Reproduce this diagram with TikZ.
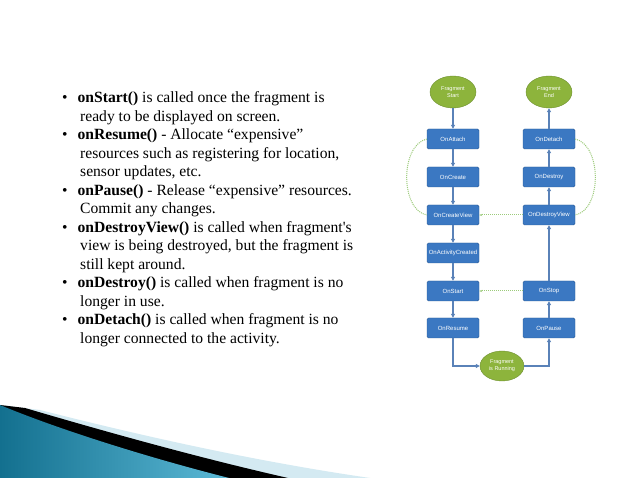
\documentclass[tikz,border=0pt]{standalone}
\usepackage{fontspec}
\setmainfont{Liberation Serif}
\setsansfont{Liberation Sans}
\usetikzlibrary{arrows.meta,shapes.geometric}
\definecolor{bx}{HTML}{3B78C2}
\definecolor{bxd}{HTML}{2A5A96}
\definecolor{gr}{HTML}{8DB43C}
\definecolor{grd}{HTML}{6E9030}
\definecolor{ar}{HTML}{5A82B8}
\definecolor{dg}{HTML}{9CCB7A}
\definecolor{tealA}{HTML}{13708F}
\definecolor{tealB}{HTML}{5CB9D6}
\definecolor{lb}{HTML}{D4EAF2}
\begin{document}
\begin{tikzpicture}[x=1pt,y=-1pt,
  fbox/.style={draw=bxd,fill=bx,rounded corners=1.5pt,minimum width=52pt,minimum height=20pt,text=white,font=\fontsize{6}{7}\selectfont\sffamily,inner sep=1pt},
  fell/.style={ellipse,draw=grd,fill=gr,minimum width=46pt,minimum height=32pt,text=white,font=\fontsize{5.5}{7}\selectfont\sffamily,align=center,inner sep=0pt},
  arr/.style={-{Triangle[length=4pt,width=4pt]},draw=ar,line width=1.2pt},
  dot/.style={draw=dg,densely dotted,line width=1pt},
  txt/.style={anchor=base west,font=\fontsize{15.6}{18}\selectfont,inner sep=0pt}]
\useasboundingbox (0,0) rectangle (638,478);
\fill[white] (0,0) rectangle (638,478);
% swoosh
\fill[lb] (40,410) .. controls (150,438) and (260,462) .. (370,478) -- (0,478) -- (0,405) -- cycle;
\fill[black] (25,408) .. controls (110,433) and (200,458) .. (288,478) -- (0,478) -- (0,405) -- cycle;
\shade[left color=tealA, right color=tealB] (0,405) .. controls (60,430) and (150,458) .. (229,478) -- (0,478) -- cycle;
% text
\foreach \t [count=\i] in {
{\textbullet\hspace{10pt}\textbf{onStart()} is called once the fragment is},
{\hspace*{18pt}ready to be displayed on screen.},
{\textbullet\hspace{10pt}\textbf{onResume()} - Allocate “expensive”},
{\hspace*{18pt}resources such as registering for location,},
{\hspace*{18pt}sensor updates, etc.},
{\textbullet\hspace{10pt}\textbf{onPause()} - Release “expensive” resources.},
{\hspace*{18pt}Commit any changes.},
{\textbullet\hspace{10pt}\textbf{onDestroyView()} is called when fragment\textquotesingle s},
{\hspace*{18pt}view is being destroyed, but the fragment is},
{\hspace*{18pt}still kept around.},
{\textbullet\hspace{10pt}\textbf{onDestroy()} is called when fragment is no},
{\hspace*{18pt}longer in use.},
{\textbullet\hspace{10pt}\textbf{onDetach()} is called when fragment is no},
{\hspace*{18pt}longer connected to the activity.}}
  \node[txt] (t\i) at (62,{103+(\i-1)*18.5}) {\t};
% diagram
\node[fell] (fs) at (453,92) {Fragment\\Start};
\node[fell] (fe) at (549,92) {Fragment\\End};
\node[fbox] (att) at (453,139) {OnAttach};
\node[fbox] (cre) at (453,177) {OnCreate};
\node[fbox] (cv) at (453,215) {OnCreateView};
\node[fbox] (ac) at (453,253) {OnActivityCreated};
\node[fbox] (st) at (453,291) {OnStart};
\node[fbox] (re) at (453,328) {OnResume};
\node[fbox] (det) at (549,139) {OnDetach};
\node[fbox] (des) at (549,177) {OnDestroy};
\node[fbox] (dv) at (549,215) {OnDestroyView};
\node[fbox] (sp) at (549,291) {OnStop};
\node[fbox] (pa) at (549,328) {OnPause};
\node[fell,minimum width=44pt,minimum height=30pt] (run) at (502,366) {Fragment\\is Running};
\draw[arr] (fs) -- (att);
\draw[arr] (att) -- (cre);
\draw[arr] (cre) -- (cv);
\draw[arr] (cv) -- (ac);
\draw[arr] (ac) -- (st);
\draw[arr] (st) -- (re);
\draw[arr] (re) |- (run);
\draw[arr] (run) -| (pa);
\draw[arr] (pa) -- (sp);
\draw[arr] (sp) -- (dv);
\draw[arr] (dv) -- (des);
\draw[arr] (des) -- (det);
\draw[arr] (det) -- (fe);
\draw[dot,-{Stealth[length=3pt]}] (dv) -- (cv);
\draw[dot,-{Stealth[length=3pt]}] (sp) -- (st);
\draw[dot] (att.west) .. controls (400,145) and (400,210) .. (cv.west);
\draw[dot] (det.east) .. controls (602,145) and (602,210) .. (dv.east);
\end{tikzpicture}
\end{document}
